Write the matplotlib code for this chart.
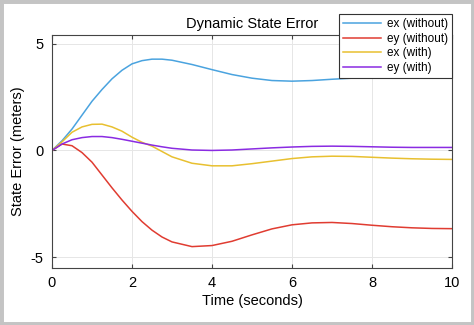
import matplotlib
matplotlib.use("Agg")
import matplotlib.pyplot as plt
from matplotlib.patches import Rectangle

plt.rcParams["font.family"] = ["Liberation Sans", "DejaVu Sans"]
plt.rcParams["axes.unicode_minus"] = False

# time samples (seconds)
t = [0, 0.25, 0.5, 0.75, 1.0, 1.25, 1.5, 1.75, 2.0, 2.25, 2.5, 2.75, 3.0,
     3.5, 4.0, 4.5, 5.0, 5.5, 6.0, 6.5, 7.0, 7.5, 8.0, 8.5, 9.0, 9.5, 10.0]

ex_without = [0, 0.45, 1.0, 1.65, 2.3, 2.85, 3.35, 3.75, 4.05, 4.2, 4.27, 4.27, 4.22,
              4.02, 3.78, 3.55, 3.38, 3.27, 3.24, 3.27, 3.33, 3.38, 3.42, 3.43, 3.42, 3.41, 3.4]
ey_without = [0, 0.3, 0.22, -0.1, -0.55, -1.15, -1.75, -2.32, -2.85, -3.33, -3.73, -4.05, -4.28,
              -4.5, -4.45, -4.25, -3.95, -3.67, -3.48, -3.39, -3.37, -3.42, -3.5, -3.57, -3.62, -3.65, -3.66]
ex_with = [0, 0.4, 0.85, 1.1, 1.22, 1.23, 1.1, 0.9, 0.62, 0.38, 0.2, -0.05, -0.3,
           -0.6, -0.72, -0.72, -0.62, -0.5, -0.38, -0.3, -0.27, -0.28, -0.32, -0.36, -0.39, -0.41, -0.42]
ey_with = [0, 0.3, 0.5, 0.6, 0.65, 0.65, 0.6, 0.52, 0.43, 0.34, 0.25, 0.17, 0.1,
           0.02, 0.0, 0.02, 0.07, 0.12, 0.16, 0.19, 0.2, 0.19, 0.17, 0.15, 0.14, 0.14, 0.14]

series = [
    ("ex (without)", ex_without, "#4aa3df"),
    ("ey (without)", ey_without, "#e03c31"),
    ("ex (with)", ex_with, "#e8c030"),
    ("ey (with)", ey_with, "#8a2be2"),
]

fig = plt.figure(figsize=(4.74, 3.25), dpi=100)
ax = fig.add_axes([0.1097, 0.1754, 0.8439, 0.7169])

for label, y, color in series:
    ax.plot(t, y, color=color, lw=1.1, label=label)

ax.set_xlim(0, 10)
ax.set_ylim(-5.5, 5.4)
ax.set_xticks([0, 2, 4, 6, 8, 10])
ax.set_yticks([-5, 0, 5])
ax.grid(True, color="#e6e6e6", lw=0.7)
ax.tick_params(direction="in", top=True, right=True, labelsize=10.5, length=3,
               color="#444444", pad=6)
for sp in ax.spines.values():
    sp.set_color("#444444")
    sp.set_linewidth(0.8)

ax.set_title("Dynamic State Error", fontsize=10.5, pad=5)
ax.set_xlabel("Time (seconds)", fontsize=10.5, labelpad=3)
ax.set_ylabel("State Error (meters)", fontsize=10.5, labelpad=4)

leg = fig.legend(loc="upper right", bbox_to_anchor=(0.954, 0.957), borderaxespad=0,
                 fontsize=8.5, frameon=True, fancybox=False, edgecolor="#333333",
                 framealpha=1, borderpad=0.35, labelspacing=0.22, handlelength=3.2,
                 handletextpad=0.5)
leg.get_frame().set_linewidth(0.8)

# gray frame around the picture
fig.patches.append(Rectangle((0, 0), 1, 1, transform=fig.transFigure, fill=False,
                             edgecolor="#c4c4c4", lw=5, zorder=10))

fig.savefig("out.png", dpi=100)
